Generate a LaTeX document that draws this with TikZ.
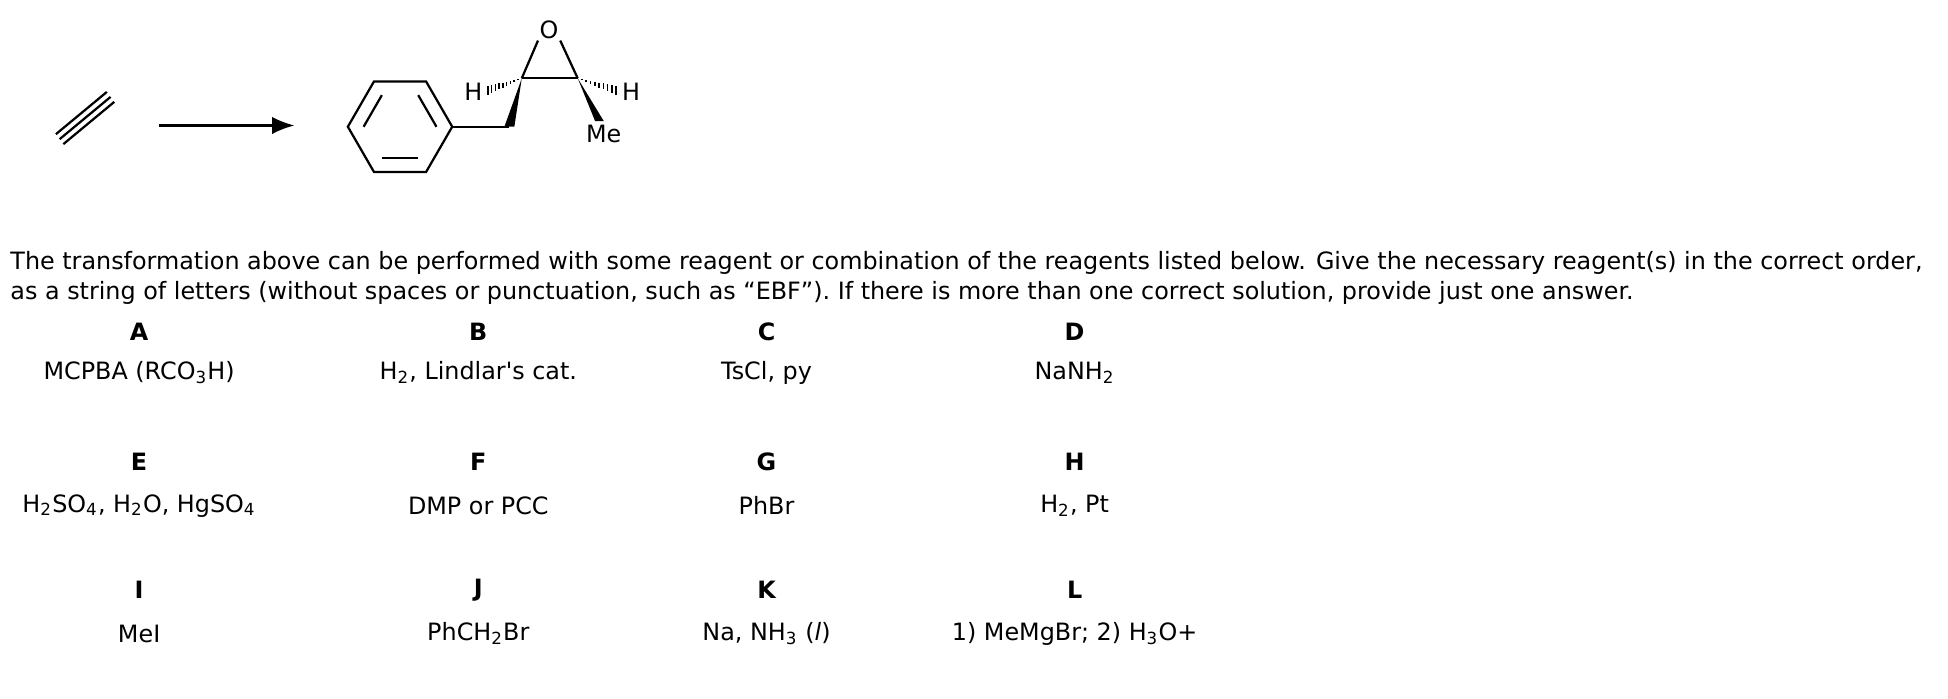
\documentclass[tikz,border=0pt]{standalone}
\usepackage{fontspec}
\setmainfont{DejaVu Sans}
\usetikzlibrary{arrows.meta,calc}
\begin{document}
\begin{tikzpicture}[x=0.5pt,y=-0.5pt,
  txt/.style={font=\fontsize{9.6}{11}\selectfont, inner sep=0pt},
  hdr/.style={font=\fontsize{9.6}{11}\selectfont\bfseries, inner sep=0pt},
  lbl/.style={font=\fontsize{9.6}{11}\selectfont, inner sep=0.5pt, fill=white},
  bond/.style={line width=0.9pt}]
\useasboundingbox (0,0) rectangle (1568,562);
% alkyne
\draw[bond] (45,108) -- (86,74);
\draw[bond] (48,112) -- (89,78);
\draw[bond] (51,116) -- (92,82);
% arrow
\coordinate (a1) at (128,101); \coordinate (a2) at (237,101);
\draw[bond,-{Latex[length=9pt,width=7pt]}] (a1) -- (a2);
% benzene
\foreach \i in {0,...,5}{\coordinate (b\i) at ({322+42*cos(60*\i)},{102-42*sin(60*\i)});}
\draw[bond] (b0)--(b1)--(b2)--(b3)--(b4)--(b5)--cycle;
\foreach \p/\q in {b2/b3,b0/b1,b4/b5}{\draw[bond] ($(\p)!0.15!(\q)!5.5pt!90:(\q)$) -- ($(\q)!0.15!(\p)!5.5pt!-90:(\p)$);}
% epoxide
\coordinate (ch2) at (410,102);
\coordinate (c1) at (420,63); \coordinate (c2) at (465,63);
\node[lbl] (O) at (442,24) {O};
\node[lbl] (Hl) at (381,74) {H};
\node[lbl] (Hr) at (508,74) {H};
\node[lbl] (Me) at (486,108) {Me};
\draw[bond] (b0) -- (ch2);
\draw[bond] (c1) -- (c2);
\draw[bond] (c1) -- (O.south west);
\draw[bond] (c2) -- (O.south east);
\fill (c1) -- ($(ch2)+(-4,0)$) -- ($(ch2)+(4,0)$) -- cycle;
\fill (c2) -- ($(Me.north)+(-7,-2)$) -- ($(Me.north)+(0,-2)$) -- cycle;
\foreach \t in {0.1,0.2,...,0.95}{
 \draw[line width=0.6pt] ($(c1)!\t!(Hl.east)+(0,-4*\t)$) -- ($(c1)!\t!(Hl.east)+(0,4*\t)$);
 \draw[line width=0.6pt] ($(c2)!\t!(Hr.west)+(0,-4*\t)$) -- ($(c2)!\t!(Hr.west)+(0,4*\t)$);
}
% paragraph
\node[txt,anchor=west] (p1) at (8,212) {The transformation above can be performed with some reagent or combination of the reagents listed below. Give the necessary reagent(s) in the correct order,};
\node[txt,anchor=west] (p2) at (8,236) {as a string of letters (without spaces or punctuation, such as “EBF”). If there is more than one correct solution, provide just one answer.};
% grid
\node[hdr] (hA) at (112,267) {A}; \node[txt] (rA) at (112,300) {MCPBA (RCO\textsubscript{3}H)};
\node[hdr] (hB) at (385,267) {B}; \node[txt] (rB) at (385,300) {H\textsubscript{2}, Lindlar\textquotesingle s cat.};
\node[hdr] (hC) at (617,267) {C}; \node[txt] (rC) at (617,300) {TsCl, py};
\node[hdr] (hD) at (865,267) {D}; \node[txt] (rD) at (865,300) {NaNH\textsubscript{2}};
\node[hdr] (hE) at (112,372) {E}; \node[txt] (rE) at (112,407) {H\textsubscript{2}SO\textsubscript{4}, H\textsubscript{2}O, HgSO\textsubscript{4}};
\node[hdr] (hF) at (385,372) {F}; \node[txt] (rF) at (385,407) {DMP or PCC};
\node[hdr] (hG) at (617,372) {G}; \node[txt] (rG) at (617,407) {PhBr};
\node[hdr] (hH) at (865,372) {H}; \node[txt] (rH) at (865,407) {H\textsubscript{2}, Pt};
\node[hdr] (hI) at (112,475) {I}; \node[txt] (rI) at (112,510) {MeI};
\node[hdr] (hJ) at (385,475) {J}; \node[txt] (rJ) at (385,510) {PhCH\textsubscript{2}Br};
\node[hdr] (hK) at (617,475) {K}; \node[txt] (rK) at (617,510) {Na, NH\textsubscript{3} (\textit{l})};
\node[hdr] (hL) at (865,475) {L}; \node[txt] (rL) at (865,510) {1) MeMgBr; 2) H\textsubscript{3}O+};
\end{tikzpicture}
\end{document}
